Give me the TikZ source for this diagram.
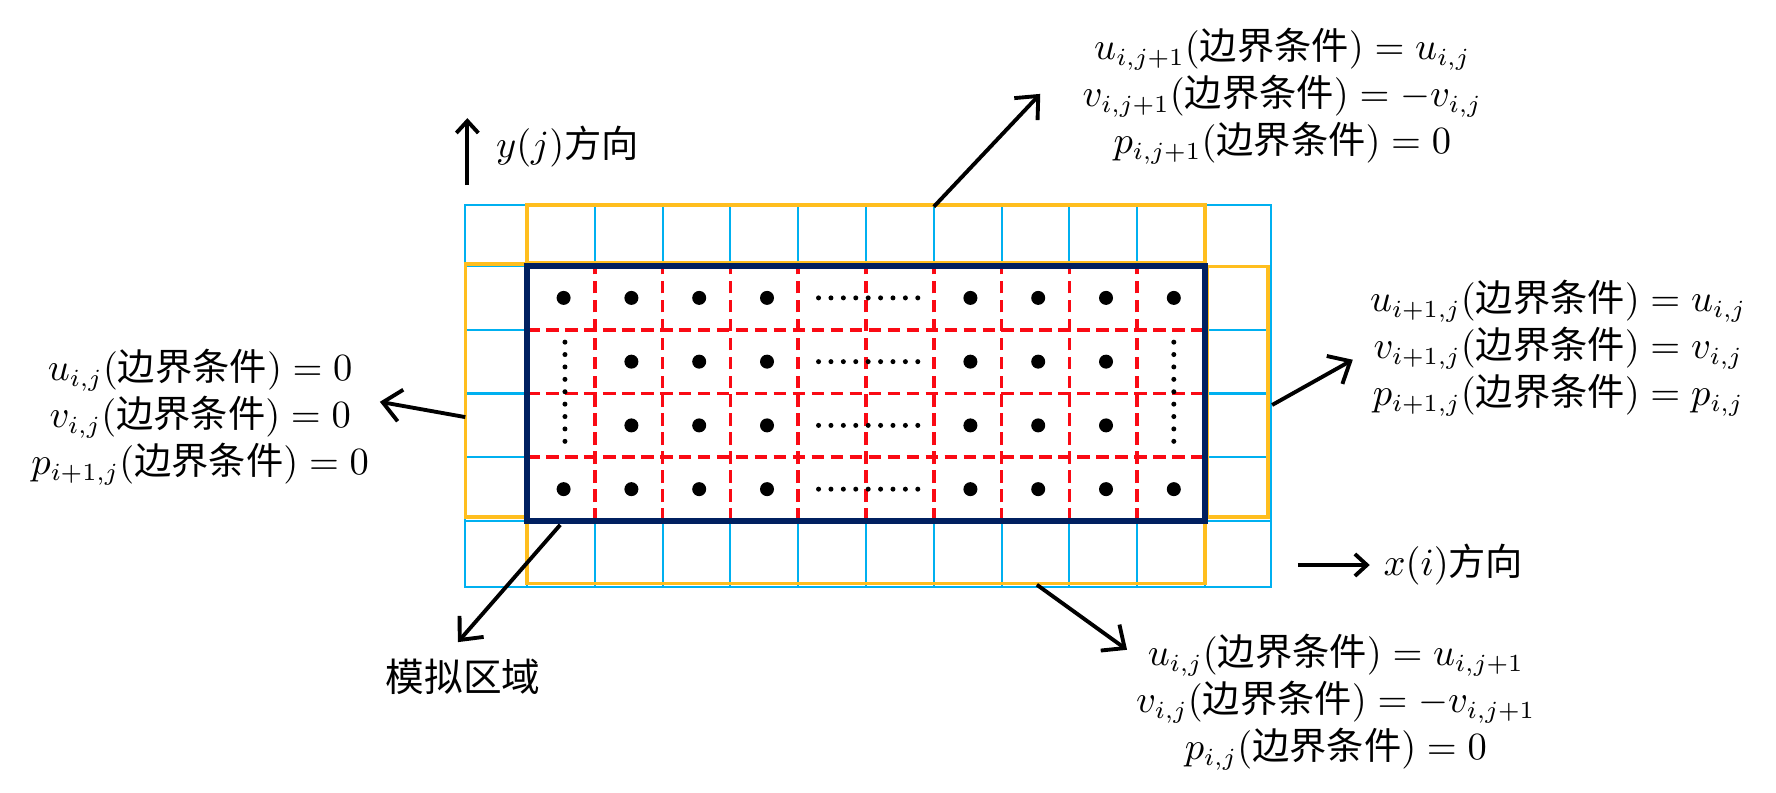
\documentclass[tikz,border=0pt]{standalone}
\usepackage{fontspec}
\newfontfamily\cjk{Noto Sans CJK SC}
\definecolor{ghostblue}{RGB}{0,176,240}
\definecolor{bandgold}{RGB}{255,190,30}
\definecolor{domainnavy}{RGB}{0,32,96}
\definecolor{cellred}{RGB}{250,10,20}
\usetikzlibrary{arrows.meta}

\begin{document}
\begin{tikzpicture}[
    x=0.678cm, y=0.6375cm,
    ghostline/.style={draw=ghostblue, line width=0.6pt},
    bandbox/.style={draw=bandgold, line width=1pt},
    cellline/.style={draw=cellred, line width=1.05pt, dash pattern=on 3.6pt off 1.8pt},
    domainbox/.style={draw=domainnavy, line width=1.7pt},
    bctext/.style={font=\cjk\fontsize{10.6}{13.4}\selectfont, align=center},
    domaintext/.style={font=\cjk\fontsize{11}{12}\selectfont},
    pointer/.style={-{Straight Barb[length=1.8mm, width=3.2mm]}, line width=1.1pt},
    axisarrow/.style={-{Straight Barb[length=1.2mm, width=2.2mm]}, line width=1.1pt}
  ]
  \useasboundingbox (-7.773,-4.251) rectangle (18.422,8.173);

  % Ghost cells round the domain
  \draw[ghostline] (-0.91,-1.03) rectangle (10.97,4.96);
  \foreach \x in {0,...,10}
    \draw[ghostline] (\x,-1.03) -- (\x,4.96);
  \foreach \y in {0,...,4}
    \draw[ghostline] (-0.91,\y) -- (10.97,\y);

  % Boundary bands
  \draw[bandbox] (0,4.05) rectangle (10,4.96);
  \draw[bandbox] (0,-0.98) rectangle (10,0);
  \draw[bandbox] (-0.91,0.06) rectangle (0,4.03);
  \draw[bandbox] (10.04,0.06) rectangle (10.93,3.99);

  % Simulated domain
  \fill[white] (0,0) rectangle (10,4);
  \foreach \x in {1,...,9}
    \draw[cellline] (\x,0) -- (\x,4);
  \foreach \y in {1,2,3}
    \draw[cellline] (0,\y) -- (10,\y);

  % Cell centres
  \foreach \col in {0,1,2,3,6,7,8,9} {
    \fill (\col+0.54,0.5) circle (0.07cm);
    \fill (\col+0.54,3.5) circle (0.07cm);
  }
  \foreach \col in {1,2,3,6,7,8} {
    \fill (\col+0.54,1.5) circle (0.07cm);
    \fill (\col+0.54,2.5) circle (0.07cm);
  }
  \foreach \row in {0.5,1.5,2.5,3.5}
    \foreach \k in {0,...,8}
      \fill (4.3+0.183*\k,\row) circle (0.025cm);
  \foreach \col in {0.56,9.54}
    \foreach \k in {0,...,8}
      \fill (\col,1.25+0.1945*\k) circle (0.025cm);

  \draw[domainbox] (0,0) rectangle (10,4);

  % Boundary conditions
  \node[bctext] (topbc) at (11.14,6.66)
    {$u_{i,j+1}($边界条件$)=u_{i,j}$\\
     $v_{i,j+1}($边界条件$)=-v_{i,j}$\\
     $p_{i,j+1}($边界条件$)=0$};
  \node[bctext] (rightbc) at (15.21,2.71)
    {$u_{i+1,j}($边界条件$)=u_{i,j}$\\
     $v_{i+1,j}($边界条件$)=v_{i,j}$\\
     $p_{i+1,j}($边界条件$)=p_{i,j}$};
  \node[bctext] (bottombc) at (11.93,-2.84)
    {$u_{i,j}($边界条件$)=u_{i,j+1}$\\
     $v_{i,j}($边界条件$)=-v_{i,j+1}$\\
     $p_{i,j}($边界条件$)=0$};
  \node[bctext] (leftbc) at (-4.82,1.63)
    {$u_{i,j}($边界条件$)=0$\\
     $v_{i,j}($边界条件$)=0$\\
     $p_{i+1,j}($边界条件$)=0$};
  \node[domaintext] (domainlbl) at (-0.94,-2.45) {模拟区域};

  % Pointers
  \coordinate (topfoot) at (6.0,4.93);
  \coordinate (tophead) at (7.57,6.70);
  \coordinate (rightfoot) at (10.99,1.82);
  \coordinate (righthead) at (12.18,2.53);
  \coordinate (bottomfoot) at (7.52,-1.0);
  \coordinate (bottomhead) at (8.85,-2.02);
  \coordinate (leftfoot) at (-0.91,1.63);
  \coordinate (lefthead) at (-2.17,1.87);
  \coordinate (domainfoot) at (0.49,-0.06);
  \coordinate (domainhead) at (-1.02,-1.9);
  \draw[pointer] (topfoot) -- (tophead);
  \draw[pointer] (rightfoot) -- (righthead);
  \draw[pointer] (bottomfoot) -- (bottomhead);
  \draw[pointer] (leftfoot) -- (lefthead);
  \draw[pointer] (domainfoot) -- (domainhead);

  % Axes
  \coordinate (ytail) at (-0.88,5.27);
  \coordinate (yhead) at (-0.88,6.32);
  \draw[axisarrow] (ytail) -- (yhead);
  \node[bctext, anchor=west] (ylbl) at (-0.64,5.87) {$y(j)$方向};
  \coordinate (xtail) at (11.37,-0.69);
  \coordinate (xhead) at (12.43,-0.69);
  \draw[axisarrow] (xtail) -- (xhead);
  \node[bctext, anchor=west] (xlbl) at (12.45,-0.69) {$x(i)$方向};
\end{tikzpicture}
\end{document}
